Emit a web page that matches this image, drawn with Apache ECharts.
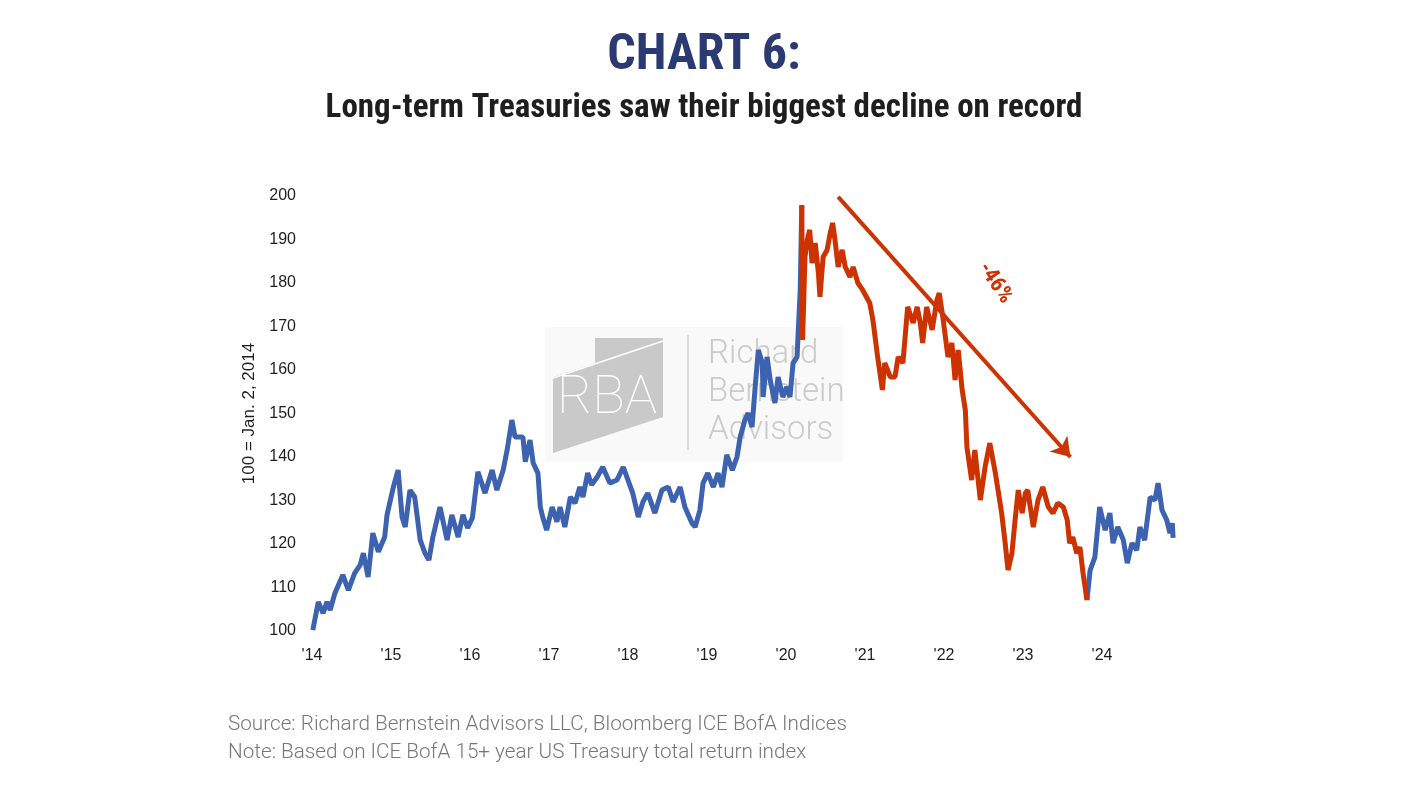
<!DOCTYPE html>
<html>
<head>
<meta charset="utf-8">
<script src="https://cdn.jsdelivr.net/npm/echarts@6/dist/echarts.min.js"></script>
<style>
html,body{margin:0;padding:0;background:#fff;}
#chart{width:1408px;height:802px;}
</style>
</head>
<body>
<div id="chart"></div>
<script>
// Decimal-year positions of the sampled points
var years = [
2014.01,2014.08,2014.14,2014.19,2014.23,2014.29,2014.39,2014.46,2014.54,2014.61,2014.65,2014.71,2014.77,2014.84,2014.92,2014.95,
2015.03,2015.09,2015.14,2015.18,2015.24,2015.30,2015.37,2015.43,2015.48,2015.53,2015.62,2015.71,2015.77,2015.85,2015.91,2015.97,
2016.03,2016.10,2016.19,2016.28,2016.34,2016.42,2016.47,2016.53,2016.57,2016.67,2016.70,2016.76,2016.80,2016.86,2016.89,2016.92,2016.97,
2017.04,2017.10,2017.14,2017.20,2017.27,2017.33,2017.39,2017.43,2017.49,2017.54,2017.61,2017.68,2017.77,2017.86,2017.94,
2018.00,2018.06,2018.13,2018.19,2018.25,2018.34,2018.43,2018.51,2018.57,2018.66,2018.72,2018.81,2018.85,2018.91,2018.95,
2019.01,2019.08,2019.14,2019.19,2019.25,2019.32,2019.38,2019.42,2019.48,2019.52,2019.57,2019.61,2019.65,2019.70,2019.71,2019.76,2019.80,2019.86,2019.90,2019.96,
2020.01,2020.05,2020.09,2020.14,2020.18,2020.20,
2020.21,2020.24,2020.27,2020.30,2020.33,2020.37,2020.41,2020.43,2020.47,2020.52,2020.56,2020.59,2020.62,2020.66,2020.71,2020.75,2020.81,2020.85,2020.91,2020.97,
2021.06,2021.10,2021.16,2021.22,2021.25,2021.32,2021.38,2021.42,2021.48,2021.54,2021.61,2021.66,2021.70,2021.73,2021.78,2021.85,2021.91,2021.94,2021.99,
2022.05,2022.10,2022.14,2022.18,2022.23,2022.27,2022.29,2022.35,2022.39,2022.46,2022.52,2022.58,2022.65,2022.73,2022.77,2022.81,2022.86,2022.90,2022.94,2022.99,
2023.03,2023.06,2023.13,2023.19,2023.25,2023.32,2023.38,2023.44,2023.51,2023.56,2023.59,2023.63,2023.68,2023.72,2023.76,2023.81,
2023.85,2023.91,2023.97,2024.04,2024.10,2024.14,2024.20,2024.27,2024.32,2024.38,2024.44,2024.48,2024.54,2024.61,2024.67,2024.71,2024.76,2024.82,2024.86,2024.89,2024.90
];
// Index level, 100 = Jan. 2, 2014
var values = [
100.2,106.7,104.1,106.7,104.8,108.7,112.9,109.4,113.3,115.2,117.9,112.4,122.5,118.2,121.6,126.7,
133.1,137.0,126.2,123.9,132.4,130.8,120.9,117.9,116.3,121.6,128.5,120.9,126.7,121.6,126.7,123.7,
126.0,136.6,131.7,137.0,132.4,137.0,141.6,148.5,144.6,144.6,138.9,143.9,138.6,136.3,128.5,126.2,123.2,
128.5,125.1,128.5,123.9,130.8,129.4,133.1,130.8,136.3,133.6,135.4,137.7,134.0,134.7,137.7,
134.7,131.7,126.2,129.7,131.7,127.1,132.4,133.1,129.7,133.1,128.5,124.8,123.9,127.8,134.0,
136.3,133.1,136.3,133.1,140.5,137.0,140.0,144.6,148.5,150.1,146.9,156.1,164.6,161.6,153.8,163.0,157.7,152.4,158.4,153.8,
156.1,153.8,161.6,163.0,178.4,197.9,
166.9,186.0,189.9,192.2,184.6,189.2,182.3,176.8,186.0,187.6,191.5,193.8,189.9,183.7,187.6,183.7,181.4,183.7,180.0,178.4,
175.4,171.5,163.0,155.4,161.6,158.4,158.4,163.0,161.6,174.5,170.8,174.5,170.8,166.2,174.5,169.2,176.1,177.7,171.5,
163.0,166.2,157.7,164.6,155.4,150.8,142.3,134.7,141.6,130.1,137.7,143.2,136.3,127.1,120.9,114.0,117.9,125.5,132.4,127.1,
131.7,132.4,123.9,130.1,133.1,128.5,127.1,129.4,128.5,125.5,120.2,121.6,117.9,119.3,113.3,107.1,
114.0,117.0,128.5,123.2,127.1,120.2,123.9,120.9,115.6,120.2,118.6,123.9,120.9,130.8,130.1,134.0,127.8,125.5,122.5,124.8,121.4
];
// Drawdown period (peak to trough) highlighted in red
var declineStart = 2020.20;
var declineEnd = 2023.81;
var declineLabel = '-46%';
// Arrow endpoints [year, level]
var arrowFrom = [2020.66, 199.8];
var arrowTo = [2023.60, 140.0];
var xTicks = [2014, 2025, 1];

var before = [], decline = [], after = [];
for (var i = 0; i < years.length; i++) {
  var p = [years[i], values[i]];
  if (years[i] <= declineStart) before.push(p);
  if (years[i] >= declineStart && years[i] <= declineEnd) decline.push(p);
  if (years[i] >= declineEnd) after.push(p);
}

var BLUE = '#3d62b0', RED = '#cc3300';
var chart = echarts.init(document.getElementById('chart'), null, {renderer: 'canvas'});
var narrow = "'Liberation Sans Narrow','Arial Narrow','Roboto Condensed',sans-serif";
var option = {
  animation: false,
  backgroundColor: '#ffffff',
  title: [
    {text: 'CHART 6:', left: 'center', top: 26,
     textStyle: {fontFamily: narrow, fontWeight: 'bold', fontSize: 50, color: '#2b3a73'}},
    {text: 'Long-term Treasuries saw their biggest decline on record', left: 'center', top: 87,
     textStyle: {fontFamily: narrow, fontWeight: 'bold', fontSize: 33, color: '#1e1e1e'}}
  ],
  grid: {left: 312, right: 227, top: 196, bottom: 171, containLabel: false},
  xAxis: {
    type: 'value', min: xTicks[0], max: xTicks[1], interval: xTicks[2],
    axisLine: {show: false}, axisTick: {show: false}, splitLine: {show: false},
    axisLabel: {
      margin: 17, fontSize: 16, color: '#1e1e1e', fontFamily: "'Liberation Sans',Arial,sans-serif",
      formatter: function (v) { return v >= xTicks[1] ? '' : "'" + String(v).slice(2); }
    }
  },
  yAxis: {
    type: 'value', min: 100, max: 200, interval: 10,
    name: '100 = Jan. 2, 2014', nameLocation: 'middle', nameRotate: 90, nameGap: 54,
    nameTextStyle: {fontSize: 17, color: '#1e1e1e', fontFamily: "'Liberation Sans',Arial,sans-serif"},
    axisLine: {show: false}, axisTick: {show: false}, splitLine: {show: false},
    axisLabel: {margin: 16, fontSize: 16, color: '#1e1e1e', fontFamily: "'Liberation Sans',Arial,sans-serif"}
  },
  graphic: [
    {type: 'rect', z: -10, shape: {x: 545, y: 327, width: 298, height: 135}, style: {fill: '#f9f9f9'}},
    {type: 'polygon', z: -9, shape: {points: [[595,338],[663,338],[663,417],[553,453],[553,377],[595,363]]}, style: {fill: '#c9c9c9'}},
    {type: 'line', z: -8, shape: {x1: 553, y1: 378, x2: 663, y2: 341}, style: {stroke: '#ffffff', lineWidth: 1.5}},
    {type: 'text', z: -8, x: 607, y: 399, style: {text: 'RBA', fill: '#ffffff', font: '100 54px Roboto, Lato, sans-serif', textAlign: 'center', textVerticalAlign: 'middle'}},
    {type: 'line', z: -8, shape: {x1: 688, y1: 335, x2: 688, y2: 450}, style: {stroke: '#d0d0d0', lineWidth: 1.5}},
    {type: 'text', z: -8, x: 708, y: 355, style: {text: 'Richard', fill: '#cbcbcb', font: '300 33px Roboto, sans-serif', textVerticalAlign: 'middle'}},
    {type: 'text', z: -8, x: 708, y: 393, style: {text: 'Bernstein', fill: '#cbcbcb', font: '300 33px Roboto, sans-serif', textVerticalAlign: 'middle'}},
    {type: 'text', z: -8, x: 708, y: 431, style: {text: 'Advisors', fill: '#cbcbcb', font: '300 33px Roboto, sans-serif', textVerticalAlign: 'middle'}},
    {type: 'text', z: 10, x: 995, y: 283, rotation: -0.98,
     style: {text: declineLabel, fill: RED, font: 'bold 22px ' + narrow, textAlign: 'center', textVerticalAlign: 'middle'}},
    {type: 'text', x: 228, y: 725, style: {text: 'Source: Richard Bernstein Advisors LLC, Bloomberg ICE BofA Indices', fill: '#777777', font: '300 20.7px Roboto, sans-serif', textVerticalAlign: 'middle'}},
    {type: 'text', x: 228, y: 753, style: {text: 'Note: Based on ICE BofA 15+ year US Treasury total return index', fill: '#777777', font: '300 20.7px Roboto, sans-serif', textVerticalAlign: 'middle'}}
  ],
  series: [
    {type: 'line', data: before, showSymbol: false, lineStyle: {color: BLUE, width: 5}, z: 3},
    {type: 'line', data: after, showSymbol: false, lineStyle: {color: BLUE, width: 5}, z: 3},
    {type: 'line', data: decline, showSymbol: false, lineStyle: {color: RED, width: 5}, z: 4,
     markLine: {
       silent: true, symbol: ['none', 'arrow'], symbolSize: 18,
       lineStyle: {color: RED, width: 4, type: 'solid'},
       label: {show: false},
       data: [[{coord: arrowFrom}, {coord: arrowTo}]]
     }}
  ]
};
chart.setOption(option);
</script>
</body>
</html>
